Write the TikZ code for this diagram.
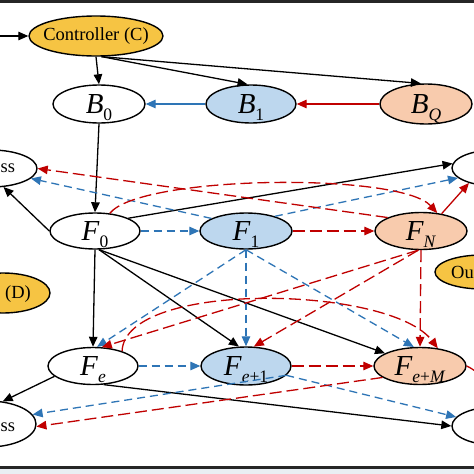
\documentclass[tikz,border=0pt]{standalone}
\usepackage{fontspec}
\setmainfont{Liberation Serif}
\usetikzlibrary{arrows.meta,shapes.geometric}
\definecolor{cyel}{RGB}{246,196,67}
\definecolor{cblu}{RGB}{189,215,238}
\definecolor{cora}{RGB}{248,203,173}
\definecolor{lblu}{RGB}{46,117,182}
\definecolor{lred}{RGB}{192,0,0}
\definecolor{cbg}{RGB}{233,238,243}
\newcommand{\Lab}[2]{\textit{#1}\raisebox{-7pt}[0pt][0pt]{\fontsize{17.5}{17.5}\selectfont #2}}
\begin{document}
\begin{tikzpicture}[x=1pt,y=-1pt,
  ell/.style={ellipse, draw=black, line width=1.4pt, inner sep=0pt, fill=white},
  big/.style={font=\fontsize{29}{29}\selectfont},
  txt/.style={font=\fontsize{18.5}{18.5}\selectfont},
  arr/.style={line width=1.3pt, -{Triangle[length=10pt,width=8.5pt]}},
  blk/.style={arr, draw=black},
  bsol/.style={arr, draw=lblu},
  rsol/.style={arr, draw=lred},
  bdash/.style={arr, draw=lblu, dash pattern=on 8pt off 5pt},
  rdash/.style={arr, draw=lred, dash pattern=on 12pt off 5pt}]
\useasboundingbox (0,0) rectangle (474,474);
\clip (0,0) rectangle (474,474);
\fill[white] (0,0) rectangle (474,474);
\fill[cbg] (0,469) rectangle (474,474);
\draw[line width=2.6pt, black!85] (0,1.3) -- (474,1.3);
\draw[line width=2.6pt, black!85] (0,467.3) -- (474,467.3);

% nodes
\node[ell, fill=cyel, minimum width=134pt, minimum height=40pt, txt] (C) at (96,36) {\makebox[0pt]{Controller (C)}};
\node[ell, minimum width=92pt, minimum height=38pt, big] (B0) at (99,104) {\Lab{B}{0}};
\node[ell, fill=cblu, minimum width=90pt, minimum height=38pt, big] (B1) at (251,104) {\Lab{B}{1}};
\node[ell, fill=cora, minimum width=92pt, minimum height=40pt, big] (BQ) at (426,104) {\Lab{B}{\textit{Q}}};

\node[ell, minimum width=92pt, minimum height=37pt] (TL) at (-9,168.5) {};
\node[txt, anchor=west, inner sep=0pt] (TLt) at (0.5,168) {ss};
\node[ell, minimum width=86pt, minimum height=36pt] (TR) at (495,168) {};

\node[ell, minimum width=90pt, minimum height=36pt, big] (F0) at (95,231) {\Lab{F}{0}};
\node[ell, fill=cblu, minimum width=92pt, minimum height=36pt, big] (F1) at (246,231) {\Lab{F}{1}};
\node[ell, fill=cora, minimum width=92pt, minimum height=37pt, big] (FN) at (421,231) {\Lab{F}{\textit{N}}};

\node[ell, fill=cyel, minimum width=94pt, minimum height=40pt] (D) at (3,293) {};
\node[txt, anchor=east, inner sep=0pt] (Dt) at (31,294) {(D)};
\node[ell, fill=cyel, minimum width=94pt, minimum height=34pt] (O) at (482,272) {};
\node[txt, anchor=west, inner sep=0pt] (Ot) at (451,272) {Ou};

\node[ell, minimum width=90pt, minimum height=37pt, big] (Fe) at (93,366) {\Lab{F}{\textit{e}}};
\node[ell, fill=cblu, minimum width=90pt, minimum height=38pt, big] (Fe1) at (246,366) {\Lab{F}{\textit{e}+1}};
\node[ell, fill=cora, minimum width=92pt, minimum height=37pt, big] (FeM) at (420,366) {\Lab{F}{\textit{e}+\textit{M}}};

\node[ell, minimum width=96pt, minimum height=46pt] (BL) at (-12,424) {};
\node[txt, anchor=west, inner sep=0pt] (BLt) at (0.5,427) {ss};
\node[ell, minimum width=86pt, minimum height=38pt] (BR) at (495,426) {};

% top part
\coordinate (in) at (-3,36);
\draw[blk] (in) -- (C.west);
\draw[blk] (C.south) -- (B0.north);
\draw[blk] (C.-75) -- (B1.100);
\draw[blk] (C.-75) -- (BQ.104);
\draw[rsol] (BQ.west) -- (B1.east);
\draw[bsol] (B1.west) -- (B0.east);
\draw[blk] (B0.south) -- (F0.north);

% black solid
\draw[blk] (F0.west) -- (TL.-56);
\draw[blk] (F0.21) -- (TR.174);
\draw[blk] (F0.south) -- (Fe.north);
\draw[blk] (F0.-78) -- (Fe1.110);
\draw[blk] (F0.-78) -- (FeM.160);
\draw[blk] (Fe.195) -- (BL.57);
\draw[blk] (Fe.-60) -- (BR.west);

% blue dashed
\draw[bdash] (F0.east) -- (F1.west);
\draw[bdash] (F1.160) -- (TL.-14);
\draw[bdash] (F1.27) -- (TR.195);
\draw[bdash] (F1.south) -- (Fe.78);
\draw[bdash] (F1.south) -- (Fe1.north);
\draw[bdash] (F1.south) -- (FeM.108);
\draw[bdash] (Fe.east) -- (Fe1.west);
\draw[bdash] (Fe1.-13) -- (BL.12);
\draw[bdash] (Fe1.-13) -- (BR.167);

% red
\draw[rdash] (F1.east) -- (FN.west);
\draw[rdash] (FN.158) -- (TL.east);
\draw[rsol] (FN.40) -- (TR.210);
\draw[rdash] (FN.-98) -- (Fe.65);
\draw[rdash] (FN.-98) -- (Fe1.68);
\draw[rdash] (FN.south) -- (FeM.north);
\draw[rdash] (Fe1.east) -- (FeM.west);
\draw[rdash] (FeM.197) -- (BL.-3);
\draw[rsol] (FeM.east) .. controls (480,372) and (495,390) .. (BR.north);
\draw[rdash] (F0.50) .. controls (140,175) and (400,172) .. (FN.48);
\draw[rdash] (Fe.27) .. controls (125,280) and (390,285) .. (FeM.45);
\end{tikzpicture}
\end{document}
